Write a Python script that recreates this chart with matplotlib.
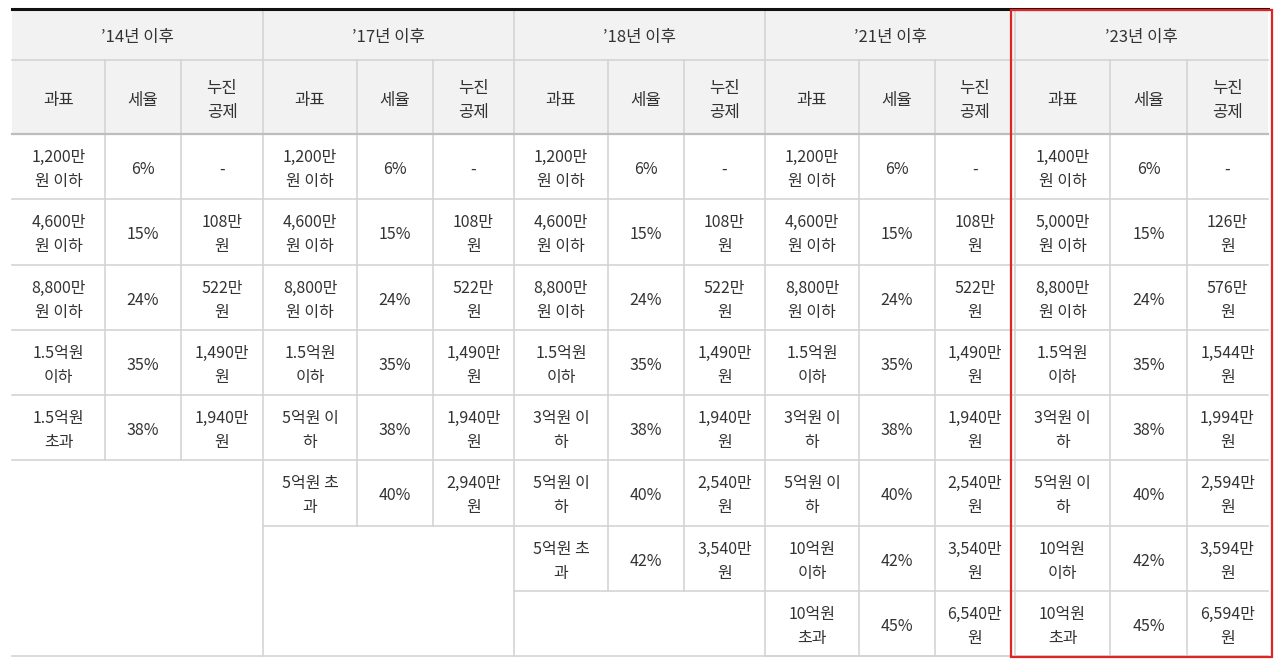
import matplotlib
matplotlib.use("Agg")
import matplotlib.pyplot as plt

periods = ["’14년 이후", "’17년 이후", "’18년 이후", "’21년 이후", "’23년 이후"]
sub_headers = ["과표", "세율", "누진\n공제"]

brackets_14 = ["1,200만\n원 이하", "4,600만\n원 이하", "8,800만\n원 이하", "1.5억원\n이하", "1.5억원\n초과"]
rates_14 = ["6%", "15%", "24%", "35%", "38%"]
deduct_14 = ["-", "108만\n원", "522만\n원", "1,490만\n원", "1,940만\n원"]

brackets_17 = ["1,200만\n원 이하", "4,600만\n원 이하", "8,800만\n원 이하", "1.5억원\n이하", "5억원 이\n하", "5억원 초\n과"]
rates_17 = ["6%", "15%", "24%", "35%", "38%", "40%"]
deduct_17 = ["-", "108만\n원", "522만\n원", "1,490만\n원", "1,940만\n원", "2,940만\n원"]

brackets_18 = ["1,200만\n원 이하", "4,600만\n원 이하", "8,800만\n원 이하", "1.5억원\n이하", "3억원 이\n하", "5억원 이\n하", "5억원 초\n과"]
rates_18 = ["6%", "15%", "24%", "35%", "38%", "40%", "42%"]
deduct_18 = ["-", "108만\n원", "522만\n원", "1,490만\n원", "1,940만\n원", "2,540만\n원", "3,540만\n원"]

brackets_21 = ["1,200만\n원 이하", "4,600만\n원 이하", "8,800만\n원 이하", "1.5억원\n이하", "3억원 이\n하", "5억원 이\n하", "10억원\n이하", "10억원\n초과"]
rates_21 = ["6%", "15%", "24%", "35%", "38%", "40%", "42%", "45%"]
deduct_21 = ["-", "108만\n원", "522만\n원", "1,490만\n원", "1,940만\n원", "2,540만\n원", "3,540만\n원", "6,540만\n원"]

brackets_23 = ["1,400만\n원 이하", "5,000만\n원 이하", "8,800만\n원 이하", "1.5억원\n이하", "3억원 이\n하", "5억원 이\n하", "10억원\n이하", "10억원\n초과"]
rates_23 = ["6%", "15%", "24%", "35%", "38%", "40%", "42%", "45%"]
deduct_23 = ["-", "126만\n원", "576만\n원", "1,544만\n원", "1,994만\n원", "2,594만\n원", "3,594만\n원", "6,594만\n원"]

groups = [
    (brackets_14, rates_14, deduct_14),
    (brackets_17, rates_17, deduct_17),
    (brackets_18, rates_18, deduct_18),
    (brackets_21, rates_21, deduct_21),
    (brackets_23, rates_23, deduct_23),
]

FONT = "Noto Sans CJK KR"
TXT = "#333333"
LINE = "#d4d4d4"
LW = 1.2

fig = plt.figure(figsize=(12.8, 6.62), dpi=100)
ax = fig.add_axes([0, 0, 1, 1])
ax.set_xlim(0, 1280)
ax.set_ylim(662, 0)
ax.axis("off")

col_x = [[12, 105, 181, 263], [263, 357, 433, 514], [514, 608, 684, 765],
         [765, 859, 935, 1015], [1015, 1110, 1187, 1268]]
y_top, y_h1, y_h2 = 9, 60, 134
row_h = (656 - 134) / 8.0

def put(x, y, s, size=11.5):
    lines = s.split("\n")
    n = len(lines)
    for i, ln in enumerate(lines):
        yy = y + 3 + (i - (n - 1) / 2) * 24
        ax.text(x, yy, ln, ha="center", va="center", fontsize=size,
                family=FONT, color=TXT)

ax.fill_between([12, 1268], y_top, y_h2, color="#f2f2f2", lw=0)

for g, (cx, data) in enumerate(zip(col_x, groups)):
    x0, x3 = cx[0], cx[3]
    put((x0 + x3) / 2, (y_top + y_h1) / 2, periods[g], 12)
    for j in range(3):
        put((cx[j] + cx[j + 1]) / 2, (y_h1 + y_h2) / 2, sub_headers[j], 12)
    ax.plot([x0, x3], [y_h1, y_h1], color=LINE, lw=LW)
    for j in range(1, 3):
        ax.plot([cx[j], cx[j]], [y_h1, y_h2], color=LINE, lw=LW)
    if g > 0:
        ax.plot([x0, x0], [y_top, y_h2], color=LINE, lw=LW)
    n = len(data[0])
    for r in range(n):
        ya = y_h2 + r * row_h
        yb = ya + row_h
        for j in range(3):
            put((cx[j] + cx[j + 1]) / 2, (ya + yb) / 2, data[j][r])
        ax.plot([x0, x3], [yb, yb], color=LINE, lw=LW)
        for j in range(1, 3):
            ax.plot([cx[j], cx[j]], [ya, yb], color=LINE, lw=LW)
    if g > 0:
        ax.plot([x0, x0], [y_h2, 656], color=LINE, lw=LW)

ax.plot([12, 1268], [656, 656], color=LINE, lw=LW)
ax.plot([12, 1268], [y_h2, y_h2], color="#bdbdbd", lw=1.6)
ax.plot([12, 1268], [y_top, y_top], color="#111111", lw=2.2)

ax.add_patch(plt.Rectangle((1011, 10), 261, 647, fill=False,
                           edgecolor="#e02424", lw=1.6, zorder=5))

fig.savefig("out.png", dpi=100)
